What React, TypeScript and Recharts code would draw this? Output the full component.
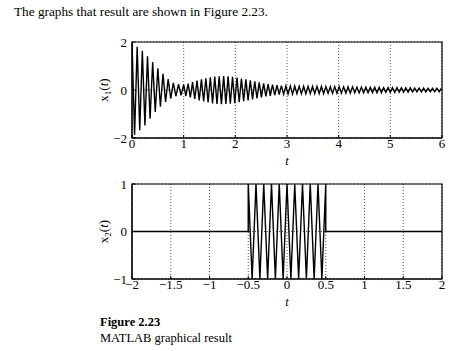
import React from 'react';
import { LineChart, Line, XAxis, YAxis, CartesianGrid, ReferenceArea } from 'recharts';

// ---------- data ----------
// x1(t): extremes of the oscillation (alternating peaks / troughs)
const x1EarlyStart = 0;
const x1EarlyStep = 0.05;
const x1EarlyExtremes = [
  2.0, -1.87, 1.8, -1.68, 1.63, -1.48, 1.4, -1.2, 1.16, -0.92,
  0.9, -0.7, 0.67, -0.5, 0.45, -0.36, 0.3, -0.26, 0.24, -0.22,
];
const x1LateStart = 1.0;
const x1LateStep = 0.043;
const x1LateExtremes = [
  0.22, -0.25, 0.27, -0.31, 0.33, -0.37, 0.39, -0.43, 0.45, -0.48,
  0.49, -0.52, 0.53, -0.56, 0.56, -0.58, 0.57, -0.59, 0.58, -0.58,
  0.57, -0.57, 0.55, -0.55, 0.52, -0.51, 0.48, -0.47, 0.44, -0.43,
  0.4, -0.39, 0.36, -0.35, 0.32, -0.31, 0.28, -0.27, 0.25, -0.24,
  0.22, -0.21, 0.2, -0.19, 0.18, -0.18, 0.17, -0.17, 0.17, -0.17,
  0.16, -0.16, 0.16, -0.16, 0.16, -0.16, 0.15, -0.15, 0.15, -0.15,
  0.15, -0.15, 0.15, -0.15, 0.14, -0.14, 0.14, -0.14, 0.14, -0.14,
  0.14, -0.13, 0.13, -0.13, 0.13, -0.13, 0.13, -0.12, 0.12, -0.12,
  0.12, -0.12, 0.12, -0.11, 0.11, -0.11, 0.11, -0.11, 0.11, -0.11,
  0.1, -0.1, 0.1, -0.1, 0.1, -0.1, 0.1, -0.09, 0.09, -0.09,
  0.09, -0.09, 0.09, -0.08, 0.08, -0.08, 0.08, -0.08, 0.08, -0.08,
  0.07, -0.07, 0.07, -0.07, 0.07, -0.07, 0.07,
];
const x1XTicks = [0, 1, 2, 3, 4, 5, 6];
const x1YTicks = [-2, 0, 2];
const x1XDomain: [number, number] = [0, 6];
const x1YDomain: [number, number] = [-2, 2];

// x2(t): zero outside |t| < 0.5, oscillating between -1 and 1 inside
const x2BeforeTimes = [-2, -0.5];
const x2OnStart = -0.5;
const x2Step = 0.05;
const x2Extremes = [
  1, -1, 1, -1, 1, -1, 1, -1, 1, -1, 1,
  -1, 1, -1, 1, -1, 1, -1, 1, -1, 1,
];
const x2AfterTimes = [0.5, 2];
const x2XTicks = [-2, -1.5, -1, -0.5, 0, 0.5, 1, 1.5, 2];
const x2YTicks = [-1, 0, 1];
const x2XDomain: [number, number] = [-2, 2];
const x2YDomain: [number, number] = [-1, 1];

// ---------- build tables ----------
const x1Data = [
  ...x1EarlyExtremes.map((v, i) => ({ t: x1EarlyStart + i * x1EarlyStep, v })),
  ...x1LateExtremes.map((v, i) => ({ t: x1LateStart + i * x1LateStep, v })),
];
const x2Data = [
  ...x2BeforeTimes.map((t) => ({ t, v: 0 })),
  ...x2Extremes.map((v, i) => ({ t: x2OnStart + i * x2Step, v })),
  ...x2AfterTimes.map((t) => ({ t, v: 0 })),
];

const FONT = '"Liberation Serif", "Times New Roman", serif';
const fmt = (v: number) => String(v).replace('-', '\u2212');

const XLab = (props: any) => {
  const vb = props.viewBox || {};
  return (
    <text x={vb.x + vb.width / 2} y={vb.y + 27} textAnchor="middle" fontFamily={FONT} fontSize={12.5} fontStyle="italic" fill="#000">
      t
    </text>
  );
};

const YLab = (props: any) => {
  const vb = props.viewBox || {};
  const cx = vb.x + vb.width - 24;
  const cy = vb.y + vb.height / 2;
  return (
    <text x={cx} y={cy} transform={`rotate(-90 ${cx} ${cy})`} textAnchor="middle" fontFamily={FONT} fontSize={13} fill="#000">
      x<tspan fontSize={9} dy={3}>{props.sub}</tspan>
      <tspan dy={-3}>(</tspan>
      <tspan fontStyle="italic">t</tspan>)
    </text>
  );
};

type PanelProps = {
  data: { t: number; v: number }[];
  xTicks: number[];
  yTicks: number[];
  xDomain: [number, number];
  yDomain: [number, number];
  sub: string;
  top: number;
  plotHeight: number;
};

const Panel = ({ data, xTicks, yTicks, xDomain, yDomain, sub, top, plotHeight }: PanelProps) => {
  const tickStyle = { fill: '#000', fontSize: 13, fontFamily: FONT };
  return (
    <div style={{ position: 'absolute', left: 0, top }}>
      <LineChart width={474} height={10 + plotHeight + 36} data={data} margin={{ top: 10, right: 32, bottom: 0, left: 0 }}>
        <CartesianGrid stroke="#555" strokeDasharray="1 2" />
        <XAxis
          dataKey="t"
          type="number"
          domain={xDomain}
          ticks={xTicks}
          interval={0}
          allowDataOverflow
          tickFormatter={fmt}
          tickSize={-3}
          tickMargin={4}
          stroke="#000"
          tick={tickStyle}
          height={36}
          label={<XLab />}
        />
        <YAxis
          type="number"
          domain={yDomain}
          ticks={yTicks}
          interval={0}
          allowDataOverflow
          tickFormatter={fmt}
          tickSize={-3}
          tickMargin={8}
          stroke="#000"
          tick={tickStyle}
          width={132}
          label={<YLab sub={sub} />}
        />
        <ReferenceArea x1={xDomain[0]} x2={xDomain[1]} y1={yDomain[0]} y2={yDomain[1]} fill="none" stroke="#000" strokeWidth={1.2} ifOverflow="visible" />
        <Line type="linear" dataKey="v" stroke="#000" strokeWidth={1.4} dot={false} isAnimationActive={false} />
      </LineChart>
    </div>
  );
};

export default function App() {
  return (
    <div style={{ position: 'absolute', left: 0, top: 0, width: 474, height: 351, background: '#fff', fontFamily: FONT, color: '#000', overflow: 'hidden' }}>
      <div style={{ position: 'absolute', left: 14, top: 4, fontSize: 13.25, lineHeight: '16px', whiteSpace: 'nowrap' }}>
        The graphs that result are shown in Figure 2.23.
      </div>
      <Panel data={x1Data} xTicks={x1XTicks} yTicks={x1YTicks} xDomain={x1XDomain} yDomain={x1YDomain} sub="1" top={32} plotHeight={96} />
      <Panel data={x2Data} xTicks={x2XTicks} yTicks={x2YTicks} xDomain={x2XDomain} yDomain={x2YDomain} sub="2" top={174} plotHeight={95} />
      <div style={{ position: 'absolute', left: 100, top: 315, fontSize: 12.5, lineHeight: '15px', fontWeight: 'bold', whiteSpace: 'nowrap' }}>
        Figure 2.23
      </div>
      <div style={{ position: 'absolute', left: 100, top: 331, fontSize: 12.5, lineHeight: '15px', whiteSpace: 'nowrap' }}>
        MATLAB graphical result
      </div>
    </div>
  );
}
